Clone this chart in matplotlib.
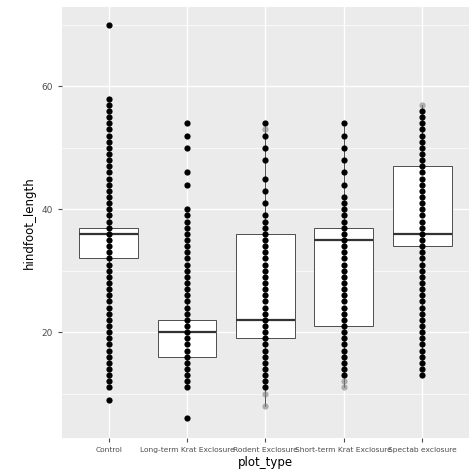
import matplotlib
matplotlib.use("Agg")
import matplotlib.pyplot as plt

categories = ["Control", "Long-term Krat Exclosure", "Rodent Exclosure",
              "Short-term Krat Exclosure", "Spectab exclosure"]
q1 = [32, 16, 19, 21, 34]
med = [36, 20, 22, 35, 36]
q3 = [37, 22, 36, 37, 47]
whislo = [25, 11, 8, 11, 15]
whishi = [43, 31, 54, 54, 57]

# observed hindfoot lengths (dark = many, light = few observations)
dark_pts = [
    [9] + list(range(11, 59)) + [70],
    [6] + list(range(11, 41)) + [44, 46, 50, 52, 54],
    list(range(11, 40)) + [41, 43, 45, 48, 50, 52, 54],
    list(range(13, 43)) + [44, 46, 48, 50, 52, 54],
    list(range(13, 57)),
]
light_pts = [
    [],
    [],
    [8, 10, 53],
    [11, 12],
    [57],
]

fig, ax = plt.subplots(figsize=(4.74, 4.74), dpi=100)
fig.subplots_adjust(left=0.13, right=0.99, top=0.985, bottom=0.075)
ax.set_facecolor("#EBEBEB")
for s in ax.spines.values():
    s.set_visible(False)

stats = [dict(med=m, q1=a, q3=b, whislo=lo, whishi=hi, fliers=[])
         for m, a, b, lo, hi in zip(med, q1, q3, whislo, whishi)]
ax.bxp(stats, positions=range(1, 6), widths=0.75, patch_artist=True,
       boxprops=dict(facecolor="white", edgecolor="#333333", linewidth=0.6),
       medianprops=dict(color="#333333", linewidth=1.6),
       whiskerprops=dict(color="#333333", linewidth=0.6),
       capprops=dict(linewidth=0), zorder=2)

for i, (d, l) in enumerate(zip(dark_pts, light_pts)):
    ax.scatter([i + 1] * len(d), d, s=20, color="black", zorder=3, linewidths=0)
    ax.scatter([i + 1] * len(l), l, s=20, color="gray", alpha=0.6, zorder=3,
               linewidths=0)

ax.set_xlim(0.4, 5.6)
ax.set_ylim(2.7, 72.9)
ax.set_xticks(range(1, 6))
ax.set_xticklabels(categories)
ax.set_yticks([20, 40, 60])
ax.set_yticks([10, 30, 50, 70], minor=True)
ax.grid(True, which="major", color="white", linewidth=1.0)
ax.grid(True, which="minor", axis="y", color="white", linewidth=0.5)
ax.set_axisbelow(True)
ax.tick_params(axis="both", which="major", labelsize=6.5, colors="#4D4D4D",
               length=3)
ax.tick_params(axis="y", which="minor", length=0)
ax.tick_params(axis="x", labelsize=5.4)
ax.set_xlabel("plot_type", fontsize=8.5, labelpad=2)
ax.set_ylabel("hindfoot_length", fontsize=8.5)

fig.savefig("out.png", dpi=100)
